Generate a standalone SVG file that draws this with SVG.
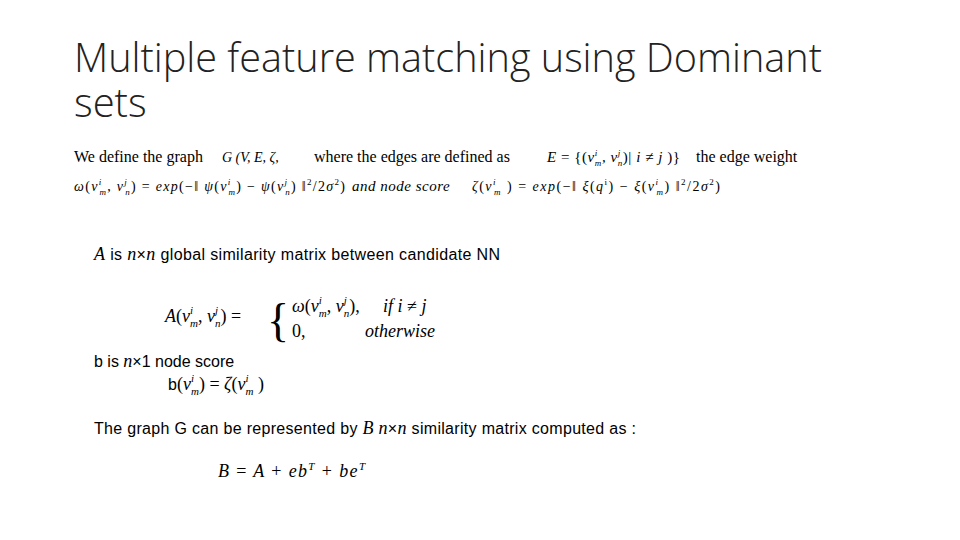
<svg xmlns="http://www.w3.org/2000/svg" width="960" height="540" viewBox="0 0 960 540">
<style>
.t{font-family:"Open Sans","Liberation Sans",sans-serif;font-weight:300;font-size:40px;fill:#222}
.s{font-family:"Liberation Serif",serif;font-size:16px;fill:#000}
.m{font-family:"Liberation Serif",serif;font-style:italic;fill:#000}
.b{font-family:"Liberation Sans",sans-serif;font-size:16px;fill:#000}
.n{font-style:normal}
</style>
<rect width="960" height="540" fill="#fff"/>
<g id="title">
<text class="t" x="74" y="72" textLength="748" lengthAdjust="spacingAndGlyphs">Multiple feature matching using Dominant</text>
<text class="t" x="74" y="117">sets</text>
</g>
<g id="definition">
<text class="s" x="74" y="162">We define the graph</text>
<text class="m" x="222" y="162" font-size="14">G (V, E, ζ,</text>
<text class="s" x="314" y="162">where the edges are defined as</text>
<text class="m" x="547" y="162" font-size="15" textLength="133" lengthAdjust="spacing">E <tspan class="n">= {(</tspan>v<tspan font-size="9" dy="-6">i</tspan><tspan font-size="9" dx="-3" dy="10">m</tspan><tspan dy="-4">, v</tspan><tspan font-size="9" dy="-6">j</tspan><tspan font-size="9" dx="-3" dy="10">n</tspan><tspan class="n" dy="-4">)| </tspan>i <tspan class="n">≠</tspan> j <tspan class="n">)}</tspan></text>
<text class="s" x="696" y="162">the edge weight</text>
<text class="m" x="74" y="191" font-size="14" textLength="271" lengthAdjust="spacing">ω<tspan class="n">(</tspan>v<tspan font-size="9" dy="-6">i</tspan><tspan font-size="9" dx="-3" dy="10">m</tspan><tspan class="n" dy="-4">, </tspan>v<tspan font-size="9" dy="-6">j</tspan><tspan font-size="9" dx="-3" dy="10">n</tspan><tspan class="n" dy="-4">) = </tspan>exp<tspan class="n">(−‖ </tspan>ψ<tspan class="n">(</tspan>v<tspan font-size="9" dy="-6">i</tspan><tspan font-size="9" dx="-3" dy="10">m</tspan><tspan class="n" dy="-4">) − </tspan>ψ<tspan class="n">(</tspan>v<tspan font-size="9" dy="-6">j</tspan><tspan font-size="9" dx="-3" dy="10">n</tspan><tspan class="n" dy="-4">) ‖</tspan><tspan class="n" font-size="9" dy="-6">2</tspan><tspan class="n" dy="6">/2</tspan>σ<tspan class="n" font-size="9" dy="-6">2</tspan><tspan class="n" dy="6">)</tspan></text>
<text class="m" x="352" y="191" font-size="15" letter-spacing="0.5">and node score</text>
<text class="m" x="472" y="191" font-size="14" textLength="248" lengthAdjust="spacing">ζ<tspan class="n">(</tspan>v<tspan font-size="9" dy="-6">i</tspan><tspan font-size="9" dx="-3" dy="10">m</tspan><tspan class="n" dy="-4"> ) = </tspan>exp<tspan class="n">(−‖ </tspan>ξ<tspan class="n">(</tspan>q<tspan font-size="9" class="n" dy="-6">i</tspan><tspan class="n" dy="6">) − </tspan>ξ<tspan class="n">(</tspan>v<tspan font-size="9" dy="-6">i</tspan><tspan font-size="9" dx="-3" dy="10">m</tspan><tspan class="n" dy="-4">) ‖</tspan><tspan class="n" font-size="9" dy="-6">2</tspan><tspan class="n" dy="6">/2</tspan>σ<tspan class="n" font-size="9" dy="-6">2</tspan><tspan class="n" dy="6">)</tspan></text>
</g>
<g id="matrixA">
<text class="b" x="94" y="260" textLength="406" lengthAdjust="spacing"><tspan class="m" font-size="18">A</tspan> is <tspan class="m" font-size="18">n</tspan>×<tspan class="m" font-size="18">n</tspan> global similarity matrix between candidate NN</text>
<text class="m" x="165" y="322" font-size="18">A<tspan class="n">(</tspan>v<tspan font-size="11" dy="-8">i</tspan><tspan font-size="11" dx="-3" dy="13">m</tspan><tspan class="n" dy="-5">, </tspan>v<tspan font-size="11" dy="-8">j</tspan><tspan font-size="11" dx="-3" dy="13">n</tspan><tspan class="n" dy="-5">) =</tspan></text>
<text x="267" y="336" font-family="Liberation Serif,serif" font-size="46">{</text>
<text class="m" x="292" y="312" font-size="18">ω<tspan class="n">(</tspan>v<tspan font-size="11" dy="-8">i</tspan><tspan font-size="11" dx="-3" dy="13">m</tspan><tspan class="n" dy="-5">, </tspan>v<tspan font-size="11" dy="-8">j</tspan><tspan font-size="11" dx="-3" dy="13">n</tspan><tspan class="n" dy="-5">),</tspan></text>
<text class="m" x="383" y="312" font-size="18">if i  <tspan class="n">≠</tspan> j</text>
<text class="m" x="292" y="337" font-size="18"><tspan class="n">0,</tspan></text>
<text class="m" x="365" y="337" font-size="18">otherwise</text>
</g>
<g id="vectorB">
<text class="b" x="94" y="367">b is <tspan class="m" font-size="18">n</tspan>×1 node score</text>
<text class="b" x="168" y="390" font-size="17">b<tspan class="m" font-size="18"><tspan class="n">(</tspan>v</tspan><tspan class="m" font-size="11" dy="-8">i</tspan><tspan class="m" font-size="11" dx="-3" dy="13">m</tspan><tspan class="m" font-size="18" dy="-5"><tspan class="n">) = </tspan>ζ<tspan class="n">(</tspan>v</tspan><tspan class="m" font-size="11" dy="-8">i</tspan><tspan class="m" font-size="11" dx="-3" dy="13">m</tspan><tspan font-size="18" font-family="Liberation Serif,serif" dy="-5"> )</tspan></text>
</g>
<g id="matrixB">
<text class="b" x="94" y="434" textLength="542" lengthAdjust="spacing">The graph G can be represented by <tspan class="m" font-size="18">B  n</tspan>×<tspan class="m" font-size="18">n</tspan> similarity matrix computed as :</text>
<text class="m" x="218" y="477" font-size="18" textLength="147" lengthAdjust="spacing">B <tspan class="n">=</tspan> A <tspan class="n">+</tspan> eb<tspan font-size="11" dy="-7">T</tspan><tspan class="n" dy="7"> + </tspan>be<tspan font-size="11" dy="-7">T</tspan></text>
</g>
</svg>
